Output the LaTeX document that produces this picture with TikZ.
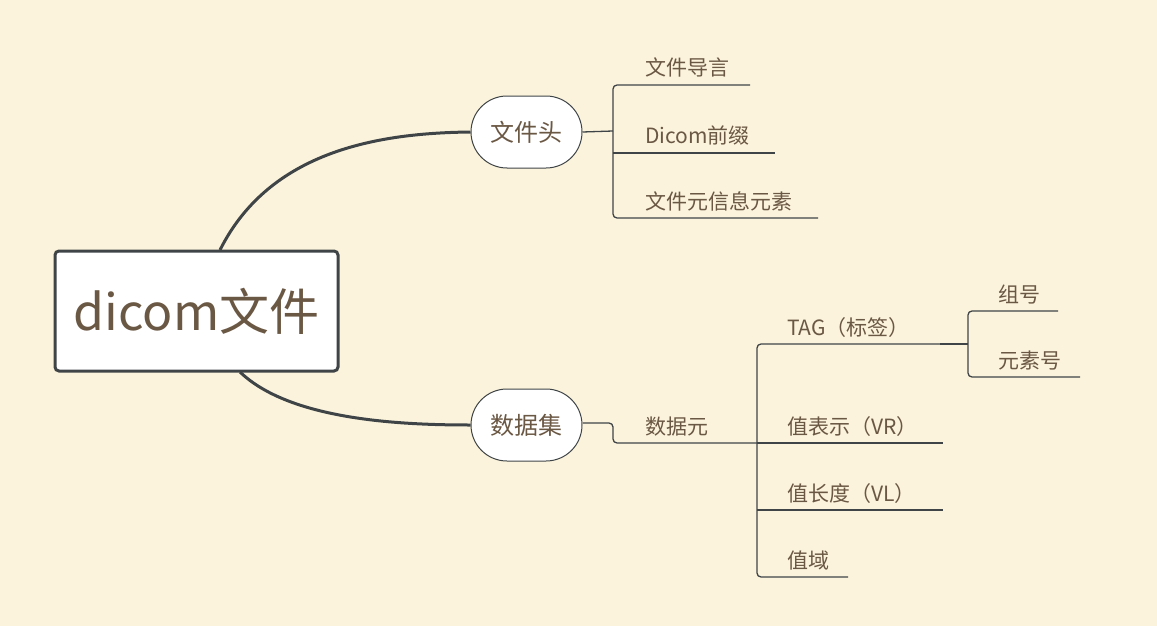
\documentclass[tikz,border=0pt]{standalone}
\usepackage{fontspec}
\setmainfont{Noto Sans CJK SC}
\begin{document}
\begin{tikzpicture}[x=1pt,y=-1pt,
  txt/.style={text=tc,font=\fontsize{21}{24}\selectfont,anchor=base west,inner sep=0},
  ln/.style={draw=lc,line width=1.3pt},
  br/.style={draw=lc,line width=1.3pt,rounded corners=4pt},
  pill/.style={draw=lc,line width=1pt,fill=white,rounded corners=36pt,minimum width=111pt,minimum height=72pt,text=tc,font=\fontsize{24}{28}\selectfont}]
\definecolor{bg}{HTML}{FBF3DC}
\definecolor{tc}{HTML}{6B5844}
\definecolor{lc}{HTML}{3F4447}
\fill[bg] (0,0) rectangle (1157,626);
\useasboundingbox (0,0) rectangle (1157,626);
\node[draw=lc,line width=3pt,fill=white,rounded corners=4pt,minimum width=283pt,minimum height=120pt,text=tc,font=\fontsize{50}{56}\selectfont] (root) at (196.5,311) {dicom文件};
\node[pill] (h) at (526.5,132) {文件头};
\node[pill] (d) at (526.5,425) {数据集};
\draw[lc,line width=3pt] (220,250) .. controls (270,150) and (380,133) .. (h.west);
\draw[lc,line width=3pt] (240,372) .. controls (290,420) and (400,425) .. (h.west |- d.west);
% header branch
\coordinate (hb) at (613,131);
\draw[ln] (h.east) -- (hb);
\draw[br] (750,85) -- (613,85) -- (613,218) -- (818,218);
\draw[ln] (613,153) -- (775,153);
\node[txt] (t1) at (645,76) {文件导言};
\node[txt] (t2) at (645,143) {Dicom前缀};
\node[txt] (t3) at (645,209) {文件元信息元素};
% data branch
\draw[br] (d.east |- 0,423) -- (613,423) -- (613,443) -- (757,443);
\node[txt] (de) at (645,434) {数据元};
\draw[br] (940,344) -- (757,344) -- (757,577) -- (848,577);
\draw[ln] (757,443) -- (943,443);
\draw[ln] (757,510) -- (943,510);
\node[txt] (v1) at (787,335) {TAG（标签）};
\node[txt] (v2) at (787,434) {值表示（VR）};
\node[txt] (v3) at (787,501) {值长度（VL）};
\node[txt] (v4) at (787,568) {值域};
\draw[ln] (940,344) -- (968,344);
\draw[br] (1058,311) -- (968,311) -- (968,377) -- (1080,377);
\node[txt] (g1) at (998,302) {组号};
\node[txt] (g2) at (998,368) {元素号};
\end{tikzpicture}
\end{document}
